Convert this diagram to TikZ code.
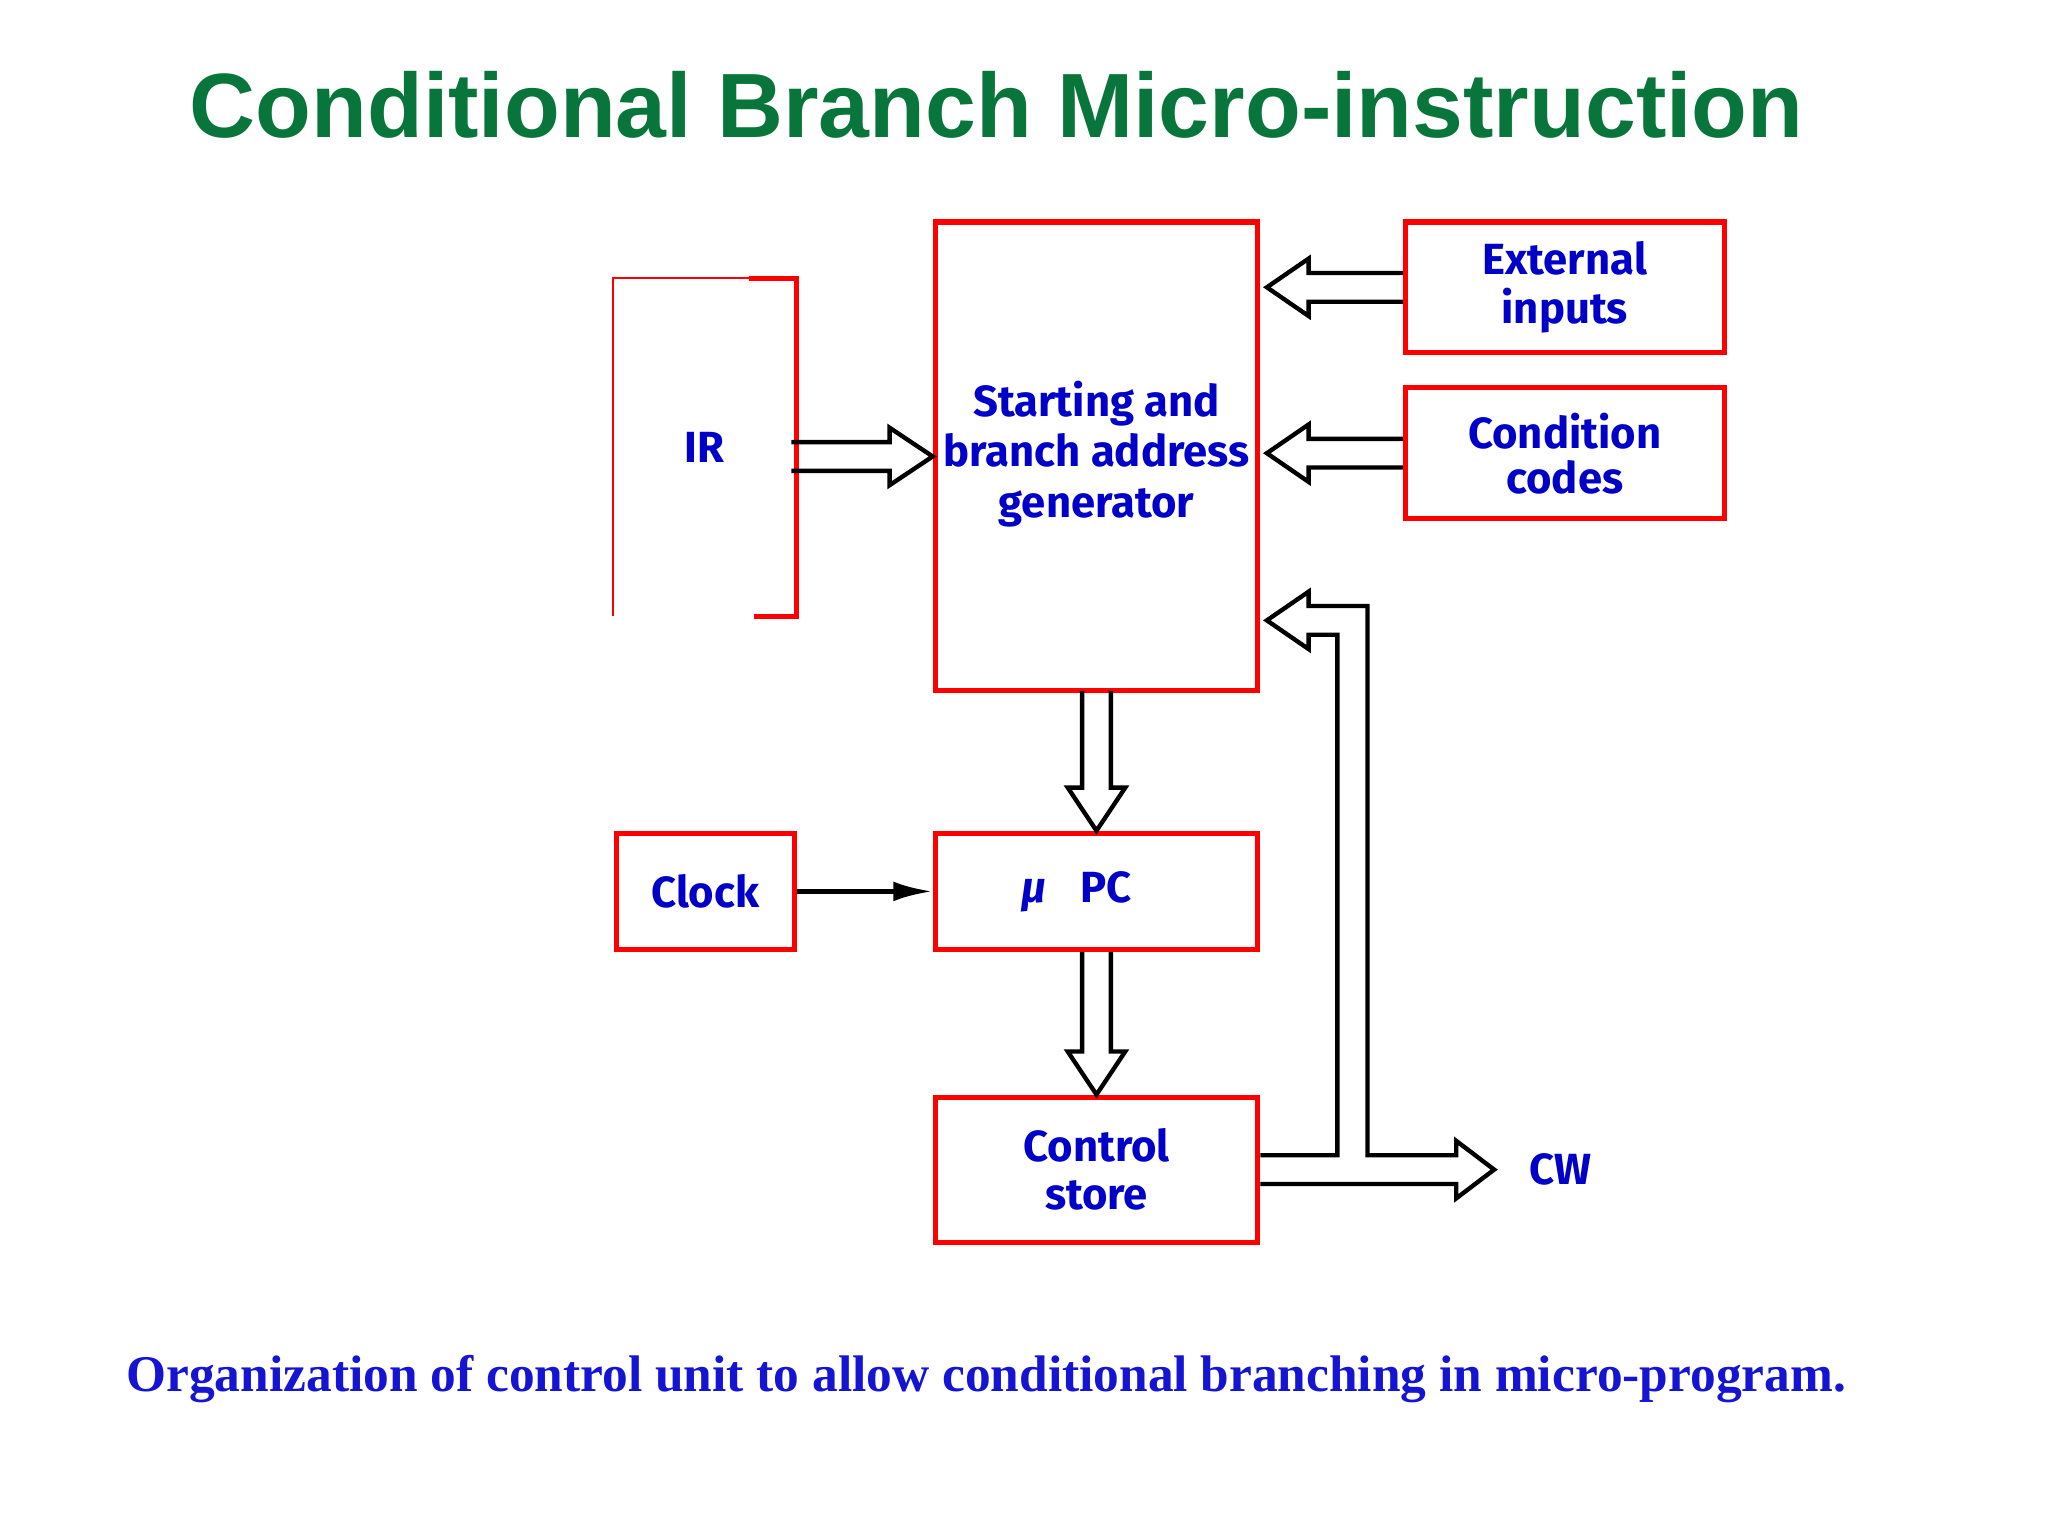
\documentclass[tikz,border=0pt]{standalone}
\usepackage{fontspec}
\setmainfont{Liberation Serif}
\newfontfamily\headfont{Liberation Sans}
\newfontfamily\boxfont{Fira Sans}
\definecolor{cbred}{RGB}{255,0,0}
\definecolor{cbblue}{RGB}{0,0,200}
\definecolor{cbgreen}{RGB}{8,118,58}
\definecolor{cbcap}{RGB}{20,20,210}
\usetikzlibrary{arrows.meta,positioning,calc}

\begin{document}
\begin{tikzpicture}[
  cbbox/.style={draw=cbred,line width=1.1pt,minimum width=2.47cm,minimum height=0.89cm,
    align=center,inner sep=0pt,font=\boxfont\bfseries\fontsize{9.5}{10.5}\selectfont,text=cbblue},
  cbfat/.style={line width=0.95pt,line join=miter},
  cbarr/.style={-{Latex[length=0.3cm,width=0.15cm]},line width=1.1pt}
]
  \useasboundingbox (0,0) rectangle (15.68,11.76);
  \node[font=\headfont\bfseries\fontsize{19.9}{24}\selectfont,text=cbgreen] (title) at (7.63,10.96) {Conditional Branch Micro-instruction};
  % Address generator and its inputs
  \node[cbbox,minimum height=3.59cm,font=\boxfont\bfseries\fontsize{9.5}{11}\selectfont] (gen) at (8.395,8.265) {Starting and\\branch address\\generator\\[-0.27cm]};
  \node[cbbox,draw=none,minimum width=1.37cm,minimum height=2.55cm] (ir) at (5.395,8.335) {IR};
  \draw[cbred,line width=0.5pt] ($(ir.north west)+(1.04,0)$) -- (ir.north west) -- (ir.south west);
  \draw[cbred,line width=1.1pt] ($(ir.north west)+(1.04,0)$) -- (ir.north east) -- (ir.south east) -- ++(-0.33,0);
  \node[cbbox,minimum width=2.44cm,minimum height=1.0cm] (ext) at (11.98,9.56) {External\\inputs};
  \node[cbbox,minimum width=2.44cm,minimum height=1.0cm,font=\boxfont\bfseries\fontsize{9.5}{9.8}\selectfont] (cond) at (11.98,8.29) {Condition\\codes};
  % Sequencing
  \node[cbbox,minimum width=1.36cm] (clk) at (5.40,4.935) {Clock};
  \node[cbbox] (upc) at (8.395,4.935) {{\itshape μ}\hspace{0.26cm}PC\hspace{0.3cm}};
  \node[cbbox,minimum height=1.11cm] (cs) at (8.395,2.805) {Control\\store};
  \node[cbbox,draw=none,minimum width=0pt,minimum height=0pt] (cw) at (11.95,2.81) {CW};
  \coordinate (fbtip) at ($(gen.east)+(0.05,-1.255)$);
  \coordinate (cwtip) at ($(cs.east)+(1.79,0)$);
  % Fat arrows into the generator
  \draw[cbfat] ($(ir.east |- gen.west)+(-0.04,0.11)$) -- ($(gen.west)+(-0.33,0.11)$) -- ++(0,0.11) -- (gen.west)
    -- ++(-0.33,-0.22) -- ++(0,0.11) -- ($(ir.east |- gen.west)+(-0.04,-0.11)$);
  \draw[cbfat] ($(ext.west)+(0,0.11)$) -- ($(gen.east |- ext.west)+(0.37,0.11)$) -- ++(0,0.11) -- ($(gen.east |- ext.west)+(0.05,0)$)
    -- ++(0.32,-0.22) -- ++(0,0.11) -- ($(ext.west)+(0,-0.11)$);
  \draw[cbfat] ($(cond.west)+(0,0.11)$) -- ($(gen.east |- cond.west)+(0.37,0.11)$) -- ++(0,0.11) -- ($(gen.east |- cond.west)+(0.05,0)$)
    -- ++(0.32,-0.22) -- ++(0,0.11) -- ($(cond.west)+(0,-0.11)$);
  % Down the chain
  \draw[cbfat] ($(gen.south)+(-0.11,0.02)$) -- ($(upc.north)+(-0.11,0.33)$) -- ++(-0.11,0) -- (upc.north)
    -- ++(0.22,0.33) -- ++(-0.11,0) -- ($(gen.south)+(0.11,0.02)$);
  \draw[cbfat] ($(upc.south)+(-0.11,0)$) -- ($(cs.north)+(-0.11,0.33)$) -- ++(-0.11,0) -- (cs.north)
    -- ++(0.22,0.33) -- ++(-0.11,0) -- ($(upc.south)+(0.11,0)$);
  \draw[cbarr] (clk.east) -- (upc.west);
  % Feedback and control word out
  \draw[cbfat] ($(cs.east)+(0,0.11)$) -- ($(cs.east)+(0.59,0.11)$) -- ($(fbtip)+(0.54,-0.11)$) -- ($(fbtip)+(0.32,-0.11)$)
    -- ++(0,-0.11) -- (fbtip) -- ++(0.32,0.22) -- ++(0,-0.11) -- ($(fbtip)+(0.77,0.11)$) -- ($(cwtip)+(-0.97,0.11)$)
    -- ($(cwtip)+(-0.29,0.11)$) -- ++(0,0.11) -- (cwtip) -- ++(-0.29,-0.22) -- ++(0,0.11) -- ($(cs.east)+(0,-0.11)$);
  \node[font=\bfseries\fontsize{11.2}{13}\selectfont,text=cbcap] (cap) at (7.55,1.20) {Organization of control unit to allow conditional branching in micro-program.};
\end{tikzpicture}
\end{document}
